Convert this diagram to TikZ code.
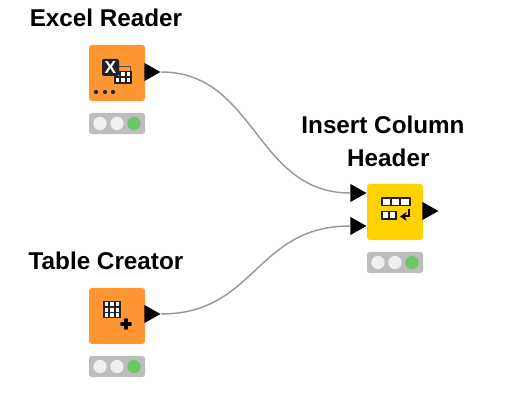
\documentclass[tikz,border=0pt]{standalone}
\usepackage{fontspec}
\setmainfont{Liberation Sans}
\usepackage{xcolor}
\usetikzlibrary{shapes.geometric, positioning, arrows.meta}
\definecolor{sourceorange}{HTML}{FF9632}
\definecolor{manipyellow}{HTML}{FFD200}
\definecolor{lightgray}{HTML}{BDBDBD}
\definecolor{lampoff}{HTML}{EFEFEF}
\definecolor{lampgreen}{HTML}{6CC664}
\definecolor{wiregray}{HTML}{999999}
\definecolor{icondark}{HTML}{222222}
\tikzset{
    knode/.style = {rectangle, rounded corners=2.2pt, minimum size=42pt, inner sep=0pt},
    source/.style = {knode, fill=sourceorange},
    manip/.style = {knode, fill=manipyellow},
    status/.style = {rectangle, rounded corners=2pt, minimum width=42pt, minimum height=15.8pt, inner sep=0pt, fill=lightgray},
    lamp/.style = {circle, minimum size=10pt, inner sep=0pt, fill=lampoff},
    greenlamp/.style = {lamp, fill=lampgreen},
    port/.style = {isosceles triangle, isosceles triangle apex angle=58, isosceles triangle stretches, minimum width=13.5pt, minimum height=12pt, inner sep=0pt, fill=black},
    title/.style = {font=\bfseries\fontsize{18.2}{24}\selectfont, align=center},
    wire/.style = {draw=wiregray, line width=1.1pt},
    cellb/.style = {draw=icondark, line width=1.4pt, fill=white}
}
\begin{document}
\begin{tikzpicture}[x=0.75pt, y=-0.75pt]
    \useasboundingbox (0,0) rectangle (512,417);

    \node (reader) [source] at (117,73) {};
    \node (creator) [source] at (117,316) {};
    \node (insert) [manip] at (395,212) {};

    \node (readertitle) [title] at (106,18) {Excel Reader};
    \node (creatortitle) [title] at (106,261) {Table Creator};
    \node (inserttitle) [title] at (383,141) {Insert Column\\[0.5pt]\hspace{8pt}Header};

    % traffic lights
    \foreach \name/\xx/\yy in {readerlight/117/123.5, creatorlight/117/366.5, insertlight/395/262.5} {
        \node (\name) [status] at (\xx,\yy) {};
        \node (\name a) [lamp] at (\xx-17,\yy) {};
        \node (\name b) [lamp] at (\xx,\yy) {};
        \node (\name c) [greenlamp] at (\xx+17,\yy) {};
    }

    % ports
    \node (readerout) [port, anchor=apex] at (161,72) {};
    \node (creatorout) [port, anchor=apex] at (161,314) {};
    \node (insertina) [port, anchor=apex] at (367,193) {};
    \node (insertinb) [port, anchor=apex] at (367,226) {};
    \node (insertout) [port, anchor=apex] at (439,211) {};

    % wires
    \draw [wire] (readerout.apex) .. controls +(95,0) and +(-95,0) .. (insertina.west);
    \draw [wire] (creatorout.apex) .. controls +(95,0) and +(-95,0) .. (insertinb.west);

    % excel icon
    \draw [icondark!80, line width=0.9pt] (119,66.5) -- (130.5,66.5) -- (130.5,72);
    \fill [icondark] (114,71) rectangle (131.5,84);
    \foreach \xx in {115.5,121,126.5} \foreach \yy in {72.5,78.5}
        \fill [white] (\xx,\yy) rectangle (\xx+3.8,\yy+4);
    \fill [icondark, rounded corners=1.5pt] (102,59) rectangle (119,76);
    \node (excelx) at (110.5,67.5) [inner sep=0pt, text=white, font=\bfseries\fontsize{13}{13}\selectfont] {X};
    \foreach \xx in {96,105,113}
        \fill [icondark] (\xx,92) circle (2.1);

    % table creator icon
    \fill [icondark] (103,301) rectangle (120.5,318.5);
    \foreach \xx in {104.5,110,115.5} \foreach \yy in {302.5,308,313.5}
        \fill [white] (\xx,\yy) rectangle (\xx+3.8,\yy+3.8);
    \fill [black, rounded corners=0.5pt] (120.3,322.2) rectangle (131.7,325.8);
    \fill [black, rounded corners=0.5pt] (124.2,318.3) rectangle (127.8,329.7);

    % insert header icon
    \foreach \xx in {382,391.2,400.4} \draw [cellb] (\xx,197.7) rectangle (\xx+9.2,205.5);
    \foreach \xx in {382,389.2} \draw [cellb] (\xx,211.5) rectangle (\xx+7.2,219.3);
    \draw [black, line width=1.5pt, -{Stealth[length=5pt,width=6.5pt]}] (408.5,209) -- (408.5,216.5) -- (400,216.5);
\end{tikzpicture}
\end{document}
